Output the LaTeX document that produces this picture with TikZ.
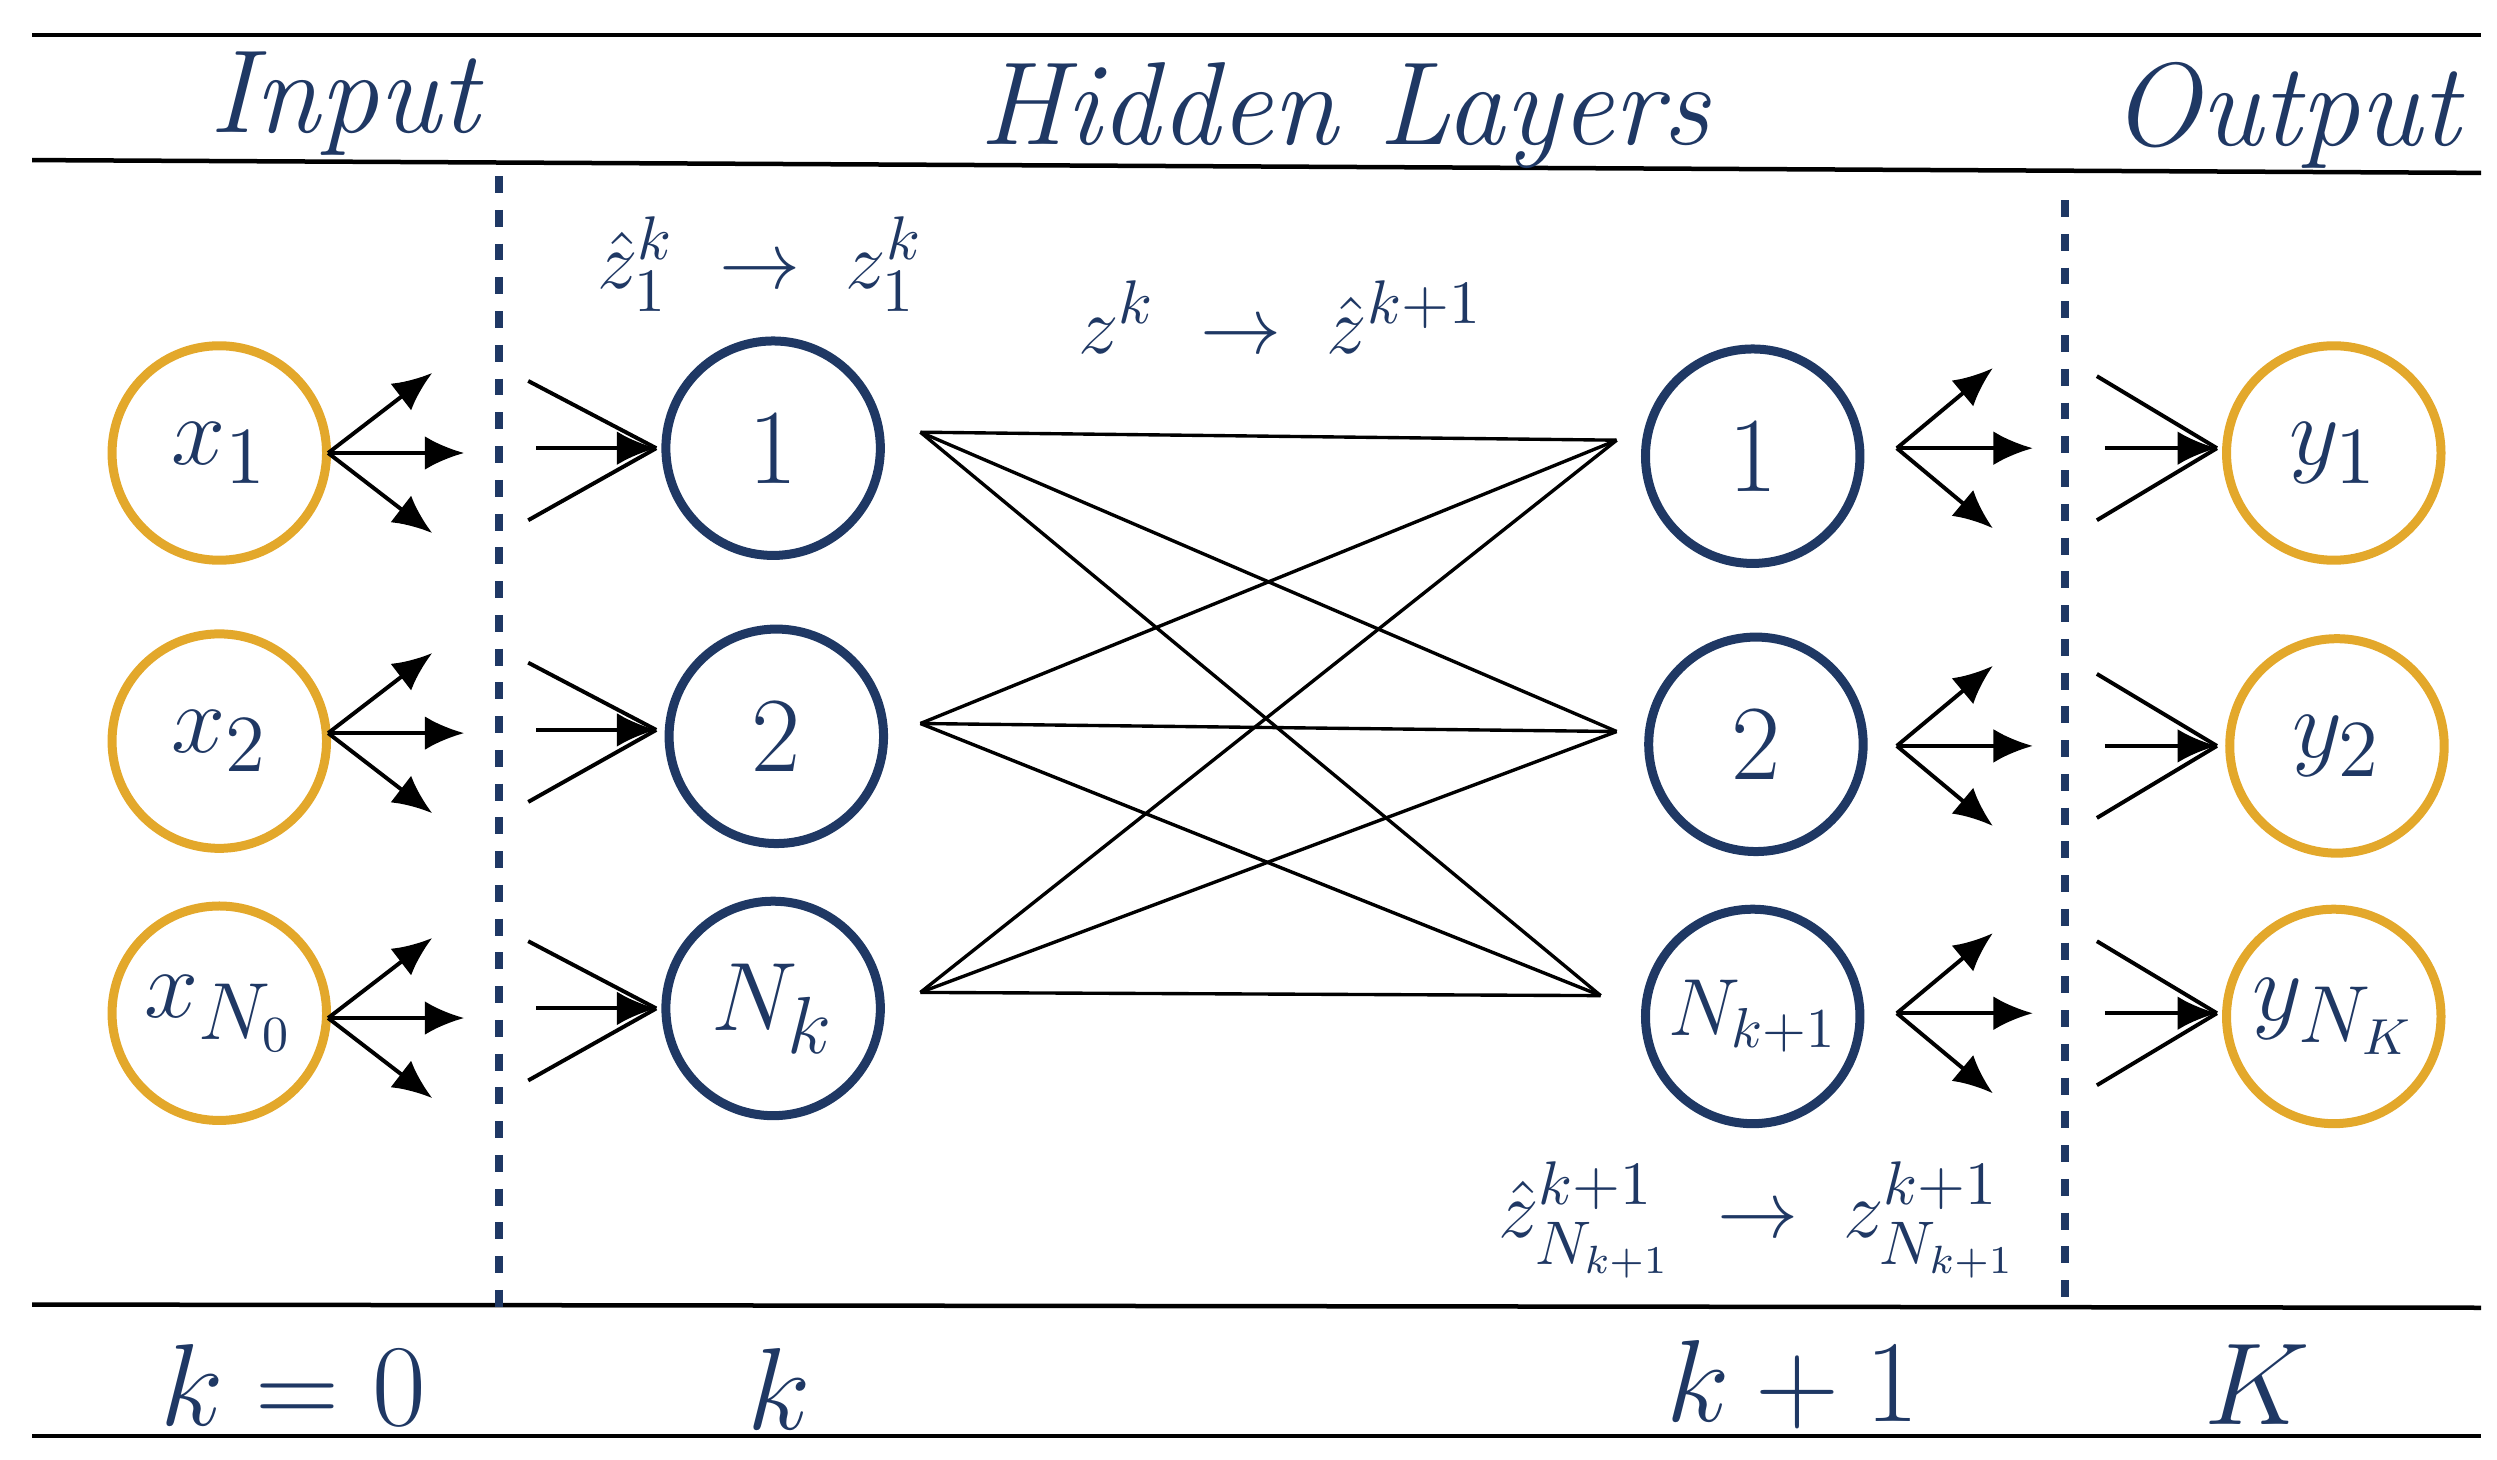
\documentclass[tikz,border=0pt]{standalone}
\usepackage{amsmath}
\usetikzlibrary{arrows.meta}
\definecolor{navy}{HTML}{1F3864}
\definecolor{gold}{HTML}{E3A82B}
\begin{document}
\begin{tikzpicture}[x=1cm,y=-1cm,
  neur/.style={circle,line width=1.6pt,minimum size=1.34cm,inner sep=0pt,text=navy,font=\fontsize{19}{20}\selectfont},
  io/.style={neur,draw=gold},
  hid/.style={neur,draw=navy},
  head/.style={text=navy,font=\fontsize{21}{24}\selectfont\itshape},
  lab/.style={text=navy,font=\fontsize{15}{17}\selectfont},
  arr/.style={-{Latex[length=7pt,width=6pt]},line width=0.7pt}]
\useasboundingbox (0,0) rectangle (15.6,9.12);
% rules
\draw[line width=0.8pt] (0.2,0.22)--(15.5,0.22);
\draw[line width=0.8pt] (0.2,1.0)--(15.5,1.08);
\draw[line width=0.8pt] (0.2,8.15)--(15.5,8.17);
\draw[line width=0.8pt] (0.2,8.97)--(15.5,8.97);
\draw[navy,dashed,line width=1.4pt] (3.12,1.1)--(3.12,8.17);
\draw[navy,dashed,line width=1.4pt] (12.9,1.25)--(12.9,8.15);
% headings
\node[head] at (2.15,0.65) {Input};
\node[head] at (8.4,0.72) {Hidden Layers};
\node[head] at (14.28,0.72) {Output};
% neurons
\node[io] (x1) at (1.37,2.83) {$x_1$};
\node[io] (x2) at (1.37,4.63) {$x_2$};
\node[io] (x3) at (1.37,6.33) {$x_{N_0}$};
\node[hid] (a1) at (4.83,2.80) {1};
\node[hid] (a2) at (4.85,4.60) {2};
\node[hid] (a3) at (4.83,6.30) {$N_k$};
\node[hid] (b1) at (10.95,2.85) {1};
\node[hid] (b2) at (10.97,4.65) {2};
\node[hid,font=\fontsize{14}{16}\selectfont] (b3) at (10.95,6.35) {$N_{k+1}$};
\node[io] (y1) at (14.58,2.83) {$y_1$};
\node[io] (y2) at (14.60,4.66) {$y_2$};
\node[io] (y3) at (14.58,6.35) {$y_{N_K}$};
% fan-out and fan-in arrows
\foreach \n/\y in {x1/2.83,x2/4.58,x3/6.36}{
  \draw[arr] (2.05,\y)--(2.7,\y-0.5);
  \draw[arr] (2.05,\y)--(2.9,\y);
  \draw[arr] (2.05,\y)--(2.7,\y+0.5);}
\foreach \y in {2.80,4.56,6.30}{
  \draw[line width=0.7pt] (3.3,\y-0.42)--(4.1,\y) (3.3,\y+0.45)--(4.1,\y);
  \draw[arr] (3.35,\y)--(4.1,\y);}
\foreach \y in {2.80,4.66,6.33}{
  \draw[arr] (11.85,\y)--(12.45,\y-0.5);
  \draw[arr] (11.85,\y)--(12.7,\y);
  \draw[arr] (11.85,\y)--(12.45,\y+0.5);}
\foreach \y in {2.80,4.66,6.33}{
  \draw[line width=0.7pt] (13.1,\y-0.45)--(13.85,\y) (13.1,\y+0.45)--(13.85,\y);
  \draw[arr] (13.15,\y)--(13.85,\y);}
% full connections
\coordinate (l1) at (5.75,2.70); \coordinate (l2) at (5.75,4.52); \coordinate (l3) at (5.75,6.20);
\coordinate (r1) at (10.1,2.75); \coordinate (r2) at (10.1,4.57); \coordinate (r3) at (10.0,6.22);
\foreach \i in {l1,l2,l3}\foreach \j in {r1,r2,r3}\draw[line width=0.6pt] (\i)--(\j);
% labels
\node[lab] at (4.75,1.65) {$\hat z_1^k \;\rightarrow\; z_1^k$};
\node[lab] at (8.0,1.98) {$z^k \;\rightarrow\; \hat z^{k+1}$};
\node[lab] at (10.98,7.62) {$\hat z^{k+1}_{N_{k+1}} \;\rightarrow\; z^{k+1}_{N_{k+1}}$};
\node[head,font=\fontsize{22}{24}\selectfont] at (1.83,8.65) {$k=0$};
\node[head,font=\fontsize{22}{24}\selectfont] at (4.87,8.68) {$k$};
\node[head,font=\fontsize{22}{24}\selectfont] at (11.2,8.65) {$k+1$};
\node[head,font=\fontsize{22}{24}\selectfont] at (14.1,8.65) {$K$};
\end{tikzpicture}
\end{document}
